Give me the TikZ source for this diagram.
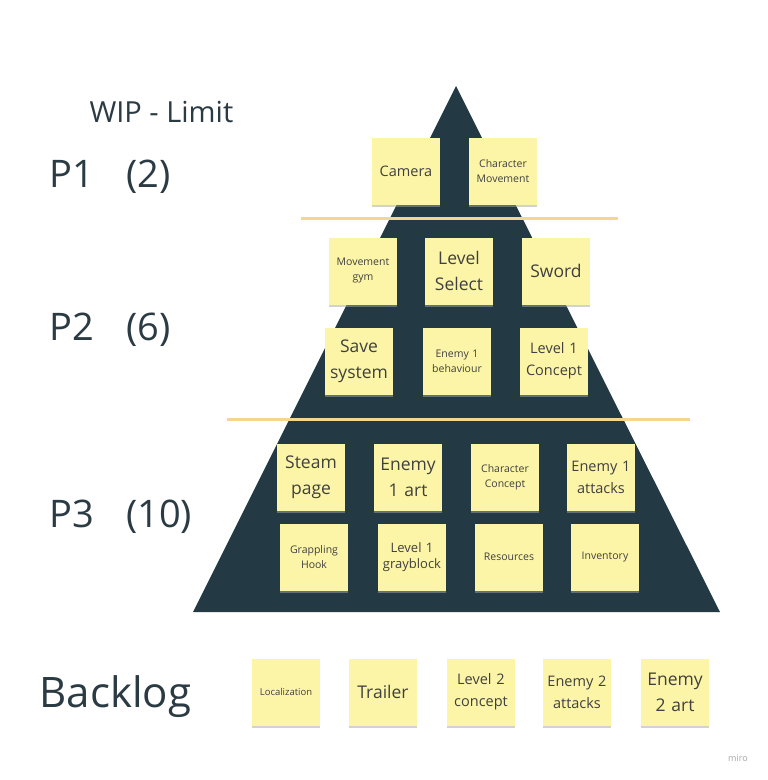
\documentclass[tikz,border=0pt]{standalone}
\usepackage{fontspec}
\setmainfont{Open Sans}
\definecolor{pyr}{HTML}{233A44}
\definecolor{sticky}{HTML}{FCF5A8}
\definecolor{lineor}{HTML}{F5D690}
\definecolor{txt}{HTML}{2B3B44}
\begin{document}
\begin{tikzpicture}[x=1pt,y=-1pt,
  note/.style={fill=sticky,minimum width=67pt,minimum height=67pt,inner sep=2pt,align=center,text=black!75,
    text width=64pt,font=\fontsize{10.5}{15}\selectfont,
    preaction={fill=black!35,opacity=0.5,transform canvas={yshift=-2pt}}},
  big/.style={font=\fontsize{17.5}{26}\selectfont},
  mid/.style={font=\fontsize{14.5}{22}\selectfont},
  lab/.style={text=txt,anchor=west,font=\fontsize{38}{42}\selectfont},
  sep/.style={draw=lineor,line width=3pt}]
\useasboundingbox (0,0) rectangle (768,780);
\fill[white] (0,0) rectangle (768,780);
\fill[pyr] (456,86) -- (720,612) -- (193,612) -- cycle;
\coordinate (l1a) at (301,218); \coordinate (l1b) at (618,218);
\coordinate (l2a) at (227,419); \coordinate (l2b) at (690,419);
\draw[sep] (l1a) -- (l1b);
\draw[sep] (l2a) -- (l2b);
\node[note,mid] (cam) at (406,171) {Camera};
\node[note] (chm) at (503,171) {Character\\Movement};
\node[note] (mg) at (363,271) {Movement\\gym};
\node[note,big] (ls) at (459,271) {Level\\Select};
\node[note,big] (sw) at (556,271) {Sword};
\node[note,big] (ss) at (359,361) {Save\\system};
\node[note] (e1b) at (457,361) {Enemy 1\\behaviour};
\node[note,mid] (l1c) at (554,361) {Level 1\\Concept};
\node[note,big] (sp) at (311,477) {Steam\\page};
\node[note,big] (e1a) at (408,477) {Enemy\\1 art};
\node[note] (cc) at (505,477) {Character\\Concept};
\node[note,mid] (e1at) at (601,477) {Enemy 1\\attacks};
\node[note] (gh) at (314,557) {Grappling\\Hook};
\node[note,mid,font=\fontsize{13}{16}\selectfont] (lg) at (412,557) {Level 1\\grayblock};
\node[note] (res) at (509,557) {Resources};
\node[note] (inv) at (605,557) {Inventory};
\node[note,font=\fontsize{9.5}{12}\selectfont] (loc) at (286,692) {Localization};
\node[note,big] (tr) at (383,692) {Trailer};
\node[note,mid] (l2c) at (481,692) {Level 2\\concept};
\node[note,mid] (e2at) at (577,692) {Enemy 2\\attacks};
\node[note,big] (e2a) at (675,692) {Enemy\\2 art};
\node[text=txt,anchor=west,font=\fontsize{29}{32}\selectfont] (wip) at (86,112) {WIP - Limit};
\node[lab] (p1) at (46,177) {P1\hspace{32pt}(2)};
\node[lab] (p2) at (46,330) {P2\hspace{32pt}(6)};
\node[lab] (p3) at (46,517) {P3\hspace{32pt}(10)};
\node[lab,font=\fontsize{42}{46}\selectfont] (bl) at (36,697) {Backlog};
\node[text=black!35,font=\fontsize{9}{10}\selectfont] (miro) at (738,758) {miro};
\end{tikzpicture}
\end{document}
